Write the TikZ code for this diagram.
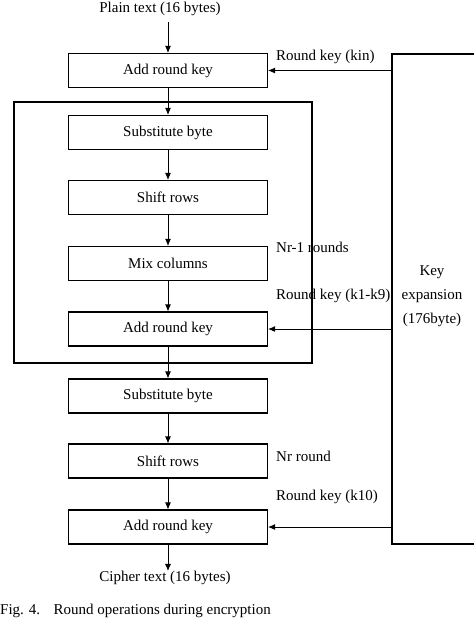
\documentclass[tikz,border=0pt]{standalone}
\usepackage{fontspec}
\setmainfont{Liberation Serif}
\usetikzlibrary{arrows.meta,positioning}

\begin{document}
\begin{tikzpicture}[x=1pt,y=-1pt]
\tikzset{stage/.style={draw, line width=1.1pt, minimum width=199pt, minimum height=34pt, inner sep=0pt, font=\fontsize{15}{18}\selectfont},
	flow/.style={-{Latex[length=7pt,width=6pt]}, line width=0.9pt},
	note/.style={anchor=west, inner sep=0pt, font=\fontsize{15}{18}\selectfont}}
\useasboundingbox (0,0) rectangle (474,643);
				% main chain
				\node[stage] (add1) at (168,70.5) {Add round key};
				\node[stage] (sub1) at (168,132.5) {Substitute byte};
				\node[stage] (shift1) at (168,197.5) {Shift rows};
				\node[stage] (mix) at (168,263.5) {Mix columns};
				\node[stage] (add2) at (168,329) {Add round key};
				\node[stage] (sub2) at (168,396) {Substitute byte};
				\node[stage] (shift2) at (168,461) {Shift rows};
				\node[stage] (add3) at (168,527) {Add round key};
				\node[note, anchor=center] (plain) at (160,9) {Plain text (16 bytes)};
				\node[note, anchor=center] (cipher) at (165,578) {Cipher text (16 bytes)};
				% round frame and key expansion
				\draw[line width=1.1pt] (14,102) rectangle (312,363);
				\node[draw, line width=1.1pt, minimum width=96pt, minimum height=490pt] (keybox) at (440,299) {};
				\node[note, anchor=center, align=center, font=\fontsize{15}{24}\selectfont] (keytxt) at (432,296) {Key\\expansion\\(176byte)};
				% labels
				\node[note] (kin) at (276,57) {Round key (kin)};
				\node[note] (nr1) at (276,247) {Nr-1 rounds};
				\node[note] (k19) at (276,296) {Round key (k1-k9)};
				\node[note] (nr) at (276,456) {Nr round};
				\node[note] (k10) at (276,497) {Round key (k10)};
				\node[note] (caption) at (0,611) {Fig. 4.\hspace{0.9em}Round operations during encryption};
				% arrows
				\draw[flow] ([yshift=-6pt]plain.south -| add1.north) -- (add1.north);
				\foreach \a/\b in {add1/sub1, sub1/shift1, shift1/mix, mix/add2, add2/sub2, sub2/shift2, shift2/add3}
					\draw[flow] (\a.south) -- (\b.north);
				\draw[flow] (add3.south) -- (cipher.north -| add3.south);
				\foreach \t in {add1, add2, add3}
					\draw[flow] (keybox.west |- \t.east) -- (\t.east);
\end{tikzpicture}
\end{document}
